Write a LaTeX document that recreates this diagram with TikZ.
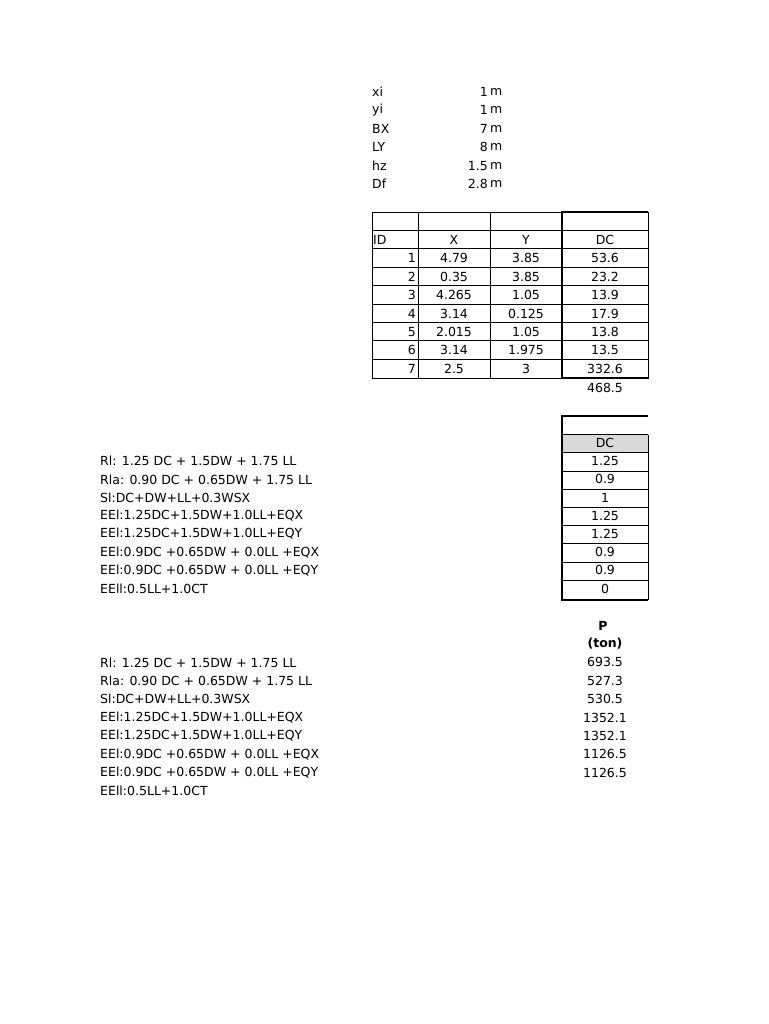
\documentclass[tikz,border=0pt]{standalone}
\usepackage{fontspec}
\setmainfont{DejaVu Sans}
\begin{document}
\begin{tikzpicture}[x=1pt,y=-1pt,every node/.style={inner sep=0pt,font=\fontsize{12.5}{14}\selectfont},
 lab/.style={anchor=west},num/.style={anchor=east},ctr/.style={anchor=center},
 thin/.style={line width=0.8pt},thick2/.style={line width=2pt}]
\useasboundingbox (0,0) rectangle (768,1024);
% params
\foreach \l/\v [count=\i] in {xi/1,yi/1,BX/7,LY/8,hz/1.5,Df/2.8}{
 \node[lab] (p\i) at (372,{92+18.4*(\i-1)}) {\l};
 \node[num] (v\i) at (488,{92+18.4*(\i-1)}) {\v};
 \node[lab] (m\i) at (490,{92+18.4*(\i-1)}) {m};
}
% table 1
\def\r{18.4}
\draw[thin] (372,212) rectangle (648,378);
\foreach \i in {1,...,8} \draw[thin] (372,{212+\r*\i}) -- (648,{212+\r*\i});
\draw[thin] (418,212) -- (418,378);
\draw[thin] (490,212) -- (490,378);
\draw[thick2] (648,212) -- (562,212) -- (562,378) -- (648,378);
\node[lab] (hid) at (373,240) {ID};
\node[ctr] (hx) at (454,240) {X};
\node[ctr] (hy) at (526,240) {Y};
\node[ctr] (hdc) at (605,240) {DC};
\foreach \x/\y/\d [count=\i] in {4.79/3.85/53.6,0.35/3.85/23.2,4.265/1.05/13.9,3.14/0.125/17.9,2.015/1.05/13.8,3.14/1.975/13.5,2.5/3/332.6}{
 \node[num] (id\i) at (416,{240+\r*\i}) {\i};
 \node[ctr] (x\i) at (454,{240+\r*\i}) {\x};
 \node[ctr] (y\i) at (526,{240+\r*\i}) {\y};
 \node[ctr] (d\i) at (605,{240+\r*\i}) {\d};
}
\node[ctr] (tot) at (605,388) {468.5};
% table 2
\fill[gray!30] (562,434.5) rectangle (648,453);
\foreach \i in {0,...,8} \draw[thin] (562,{434.5+18.2*\i}) -- (648,{434.5+18.2*\i});
\draw[thin] (648,434.5) -- (648,600);
\draw[thick2] (648,416) -- (562,416) -- (562,600) -- (648,600);
\node[ctr] (h2) at (605,443) {DC};
\foreach \l/\f [count=\i] in {{Rl: 1.25 DC + 1.5DW + 1.75 LL}/1.25,{Rla: 0.90 DC + 0.65DW + 1.75 LL}/0.9,{Sl:DC+DW+LL+0.3WSX}/1,{EEl:1.25DC+1.5DW+1.0LL+EQX}/1.25,{EEl:1.25DC+1.5DW+1.0LL+EQY}/1.25,{EEl:0.9DC +0.65DW + 0.0LL +EQX}/0.9,{EEl:0.9DC +0.65DW + 0.0LL +EQY}/0.9,{EEll:0.5LL+1.0CT}/0}{
 \node[lab] (a\i) at (100,{443+18.2*\i}) {\l};
 \node[ctr] (f\i) at (605,{443+18.2*\i}) {\f};
}
% P table
\node[ctr] (P) at (603,626) {\textbf{P}};
\node[ctr] (ton) at (605,644) {\textbf{(ton)}};
\foreach \l/\f [count=\i] in {{Rl: 1.25 DC + 1.5DW + 1.75 LL}/693.5,{Rla: 0.90 DC + 0.65DW + 1.75 LL}/527.3,{Sl:DC+DW+LL+0.3WSX}/530.5,{EEl:1.25DC+1.5DW+1.0LL+EQX}/1352.1,{EEl:1.25DC+1.5DW+1.0LL+EQY}/1352.1,{EEl:0.9DC +0.65DW + 0.0LL +EQX}/1126.5,{EEl:0.9DC +0.65DW + 0.0LL +EQY}/1126.5,{EEll:0.5LL+1.0CT}/}{
 \node[lab] (b\i) at (100,{644+18.4*\i}) {\l};
 \node[ctr] (g\i) at (605,{644+18.4*\i}) {\f};
}
\end{tikzpicture}
\end{document}
